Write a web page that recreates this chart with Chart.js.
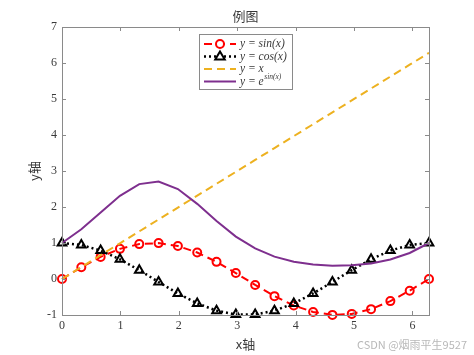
<!DOCTYPE html>
<html>
<head>
<meta charset="utf-8">
<script src="https://cdn.jsdelivr.net/npm/chart.js@4/dist/chart.umd.min.js"></script>
<style>
  html, body { margin: 0; padding: 0; background: #fff; }
  #wrap { width: 474px; height: 355px; position: relative; }
</style>
</head>
<body>
<div id="wrap"><canvas id="c" width="474" height="355"></canvas></div>
<script>
// ---- data ----
const xVals   = [0, 0.3307, 0.6614, 0.9921, 1.3228, 1.6535, 1.9842, 2.3149, 2.6456, 2.9762, 3.3069, 3.6376, 3.9683, 4.2990, 4.6297, 4.9604, 5.2911, 5.6218, 5.9525, 6.2832];
const sinVals = [0, 0.3247, 0.6142, 0.8372, 0.9694, 0.9966, 0.9158, 0.7357, 0.4759, 0.1646, -0.1646, -0.4759, -0.7357, -0.9158, -0.9966, -0.9694, -0.8372, -0.6142, -0.3247, 0];
const cosVals = [1, 0.9458, 0.7891, 0.5469, 0.2455, -0.0826, -0.4017, -0.6773, -0.8795, -0.9864, -0.9864, -0.8795, -0.6773, -0.4017, -0.0826, 0.2455, 0.5469, 0.7891, 0.9458, 1];
const lineVals = [0, 0.3307, 0.6614, 0.9921, 1.3228, 1.6535, 1.9842, 2.3149, 2.6456, 2.9762, 3.3069, 3.6376, 3.9683, 4.2990, 4.6297, 4.9604, 5.2911, 5.6218, 5.9525, 6.2832];
const expVals = [1, 1.3836, 1.8482, 2.3099, 2.6364, 2.7091, 2.4988, 2.0868, 1.6095, 1.1789, 0.8482, 0.6213, 0.4792, 0.4002, 0.3691, 0.3793, 0.4329, 0.5411, 0.7228, 1];
const xTicks = [0, 1, 2, 3, 4, 5, 6];
const yTicks = [-1, 0, 1, 2, 3, 4, 5, 6, 7];
const seriesNames = ['y = sin(x)', 'y = cos(x)', 'y = x', 'y = e'];
const titleText = '例图';
const xLabel = 'x轴';
const yLabel = 'y轴';
const watermark = 'CSDN @烟雨平生9527';

const pts = (ys) => xVals.map((x, i) => ({x: x, y: ys[i]}));

const AXIS_COLOR = '#8a8a8a';
const TEXT_COLOR = '#3a3a3a';
const SERIF = '"Liberation Serif", "DejaVu Serif", serif';
const CJK = '"Noto Sans CJK SC", "Noto Sans", sans-serif';

const styles = [
  {color: '#FF0000', dash: [8, 5], width: 2, point: 'circle', radius: 4, order: 4},
  {color: '#000000', dash: [2, 3], width: 2.5, point: 'triangle', radius: 5, order: 3},
  {color: '#EDB120', dash: [8, 5], width: 2, point: false, radius: 0, order: 2},
  {color: '#7E2F8E', dash: [], width: 2, point: false, radius: 0, order: 1}
];

const decorPlugin = {
  id: 'decor',
  afterDatasetsDraw(chart) {
    const {ctx, chartArea: a, scales} = chart;
    ctx.save();
    ctx.strokeStyle = AXIS_COLOR;
    ctx.lineWidth = 1;
    ctx.setLineDash([]);
    ctx.strokeRect(Math.round(a.left) + 0.5, Math.round(a.top) + 0.5, Math.round(a.right - a.left), Math.round(a.bottom - a.top));
    const tl = 4;
    ctx.beginPath();
    xTicks.forEach(v => {
      const px = Math.round(scales.x.getPixelForValue(v)) + 0.5;
      ctx.moveTo(px, a.bottom); ctx.lineTo(px, a.bottom - tl);
      ctx.moveTo(px, a.top); ctx.lineTo(px, a.top + tl);
    });
    yTicks.forEach(v => {
      const py = Math.round(scales.y.getPixelForValue(v)) + 0.5;
      ctx.moveTo(a.left, py); ctx.lineTo(a.left + tl, py);
      ctx.moveTo(a.right, py); ctx.lineTo(a.right - tl, py);
    });
    ctx.stroke();
    ctx.restore();
  },
  afterDraw(chart) {
    const {ctx, chartArea: a} = chart;
    ctx.save();
    ctx.fillStyle = TEXT_COLOR;
    ctx.font = '13px ' + CJK;
    ctx.textAlign = 'center';
    ctx.textBaseline = 'middle';
    ctx.fillText(titleText, (a.left + a.right) / 2, 16);

    const bx = 199.5, by = 34.5, bw = 93, bh = 55;
    ctx.fillStyle = '#ffffff';
    ctx.fillRect(bx, by, bw, bh);
    ctx.strokeStyle = AXIS_COLOR;
    ctx.lineWidth = 1;
    ctx.strokeRect(bx, by, bw, bh);
    const rows = [44, 56.5, 69, 81.5];
    const lx0 = 204, lx1 = 236, mx = 220, tx = 240;
    styles.forEach((s, i) => {
      const y = rows[i];
      ctx.strokeStyle = s.color;
      ctx.lineWidth = s.width;
      ctx.setLineDash(s.dash);
      ctx.beginPath();
      ctx.moveTo(lx0, y); ctx.lineTo(lx1, y);
      ctx.stroke();
      ctx.setLineDash([]);
      if (s.point === 'circle') {
        ctx.fillStyle = '#fff';
        ctx.beginPath();
        ctx.arc(mx, y, s.radius, 0, Math.PI * 2);
        ctx.fill();
        ctx.lineWidth = 2;
        ctx.stroke();
      } else if (s.point === 'triangle') {
        const r = s.radius;
        ctx.fillStyle = '#fff';
        ctx.beginPath();
        ctx.moveTo(mx, y - r);
        ctx.lineTo(mx + r * 0.95, y + r * 0.6);
        ctx.lineTo(mx - r * 0.95, y + r * 0.6);
        ctx.closePath();
        ctx.fill();
        ctx.lineWidth = 2;
        ctx.stroke();
      }
      ctx.fillStyle = TEXT_COLOR;
      ctx.font = 'italic 11.5px ' + SERIF;
      ctx.textAlign = 'left';
      ctx.textBaseline = 'middle';
      ctx.fillText(seriesNames[i], tx, y);
      if (i === 3) {
        const w = ctx.measureText(seriesNames[i]).width;
        ctx.font = 'italic 7.5px ' + SERIF;
        ctx.fillText('sin(x)', tx + w + 0.5, y - 4);
      }
    });

    ctx.fillStyle = '#b8b8b8';
    ctx.font = '11px ' + CJK;
    ctx.textAlign = 'right';
    ctx.textBaseline = 'middle';
    ctx.fillText(watermark, 467, 345);
    ctx.restore();
  }
};

const datasets = [sinVals, cosVals, lineVals, expVals].map((ys, i) => {
  const s = styles[i];
  return {
    label: seriesNames[i],
    data: pts(ys),
    borderColor: s.color,
    borderWidth: s.width,
    borderDash: s.dash,
    borderCapStyle: 'butt',
    pointStyle: s.point,
    pointRadius: s.radius,
    pointBorderWidth: 2,
    pointBorderColor: s.color,
    pointBackgroundColor: 'rgba(0,0,0,0)',
    pointHoverRadius: s.radius,
    tension: 0,
    fill: false,
    order: s.order,
    clip: false
  };
});

new Chart(document.getElementById('c'), {
  type: 'line',
  data: { datasets },
  plugins: [decorPlugin],
  options: {
    responsive: false,
    animation: false,
    devicePixelRatio: 1,
    layout: { padding: { top: 27, right: 45, left: 0, bottom: 0 } },
    plugins: { legend: { display: false }, tooltip: { enabled: false }, title: { display: false } },
    scales: {
      x: {
        type: 'linear',
        min: 0, max: 6.2832,
        afterFit: (s) => { s.height = 40; },
        afterBuildTicks: (s) => { s.ticks = xTicks.map(v => ({value: v})); },
        grid: { display: false, drawTicks: false },
        border: { display: false },
        ticks: { color: TEXT_COLOR, font: { family: SERIF, size: 12 }, padding: 4, maxRotation: 0, autoSkip: false },
        title: { display: true, text: xLabel, color: TEXT_COLOR, font: { family: CJK, size: 13 }, padding: { top: 0, bottom: 3 } }
      },
      y: {
        type: 'linear',
        min: -1, max: 7,
        afterFit: (s) => { s.width = 62; },
        afterBuildTicks: (s) => { s.ticks = yTicks.map(v => ({value: v})); },
        grid: { display: false, drawTicks: false },
        border: { display: false },
        ticks: { color: TEXT_COLOR, font: { family: SERIF, size: 12 }, padding: 5, autoSkip: false },
        title: { display: true, text: yLabel, color: TEXT_COLOR, font: { family: CJK, size: 13 }, padding: { top: 26, bottom: 0 } }
      }
    }
  }
});
</script>
</body>
</html>
